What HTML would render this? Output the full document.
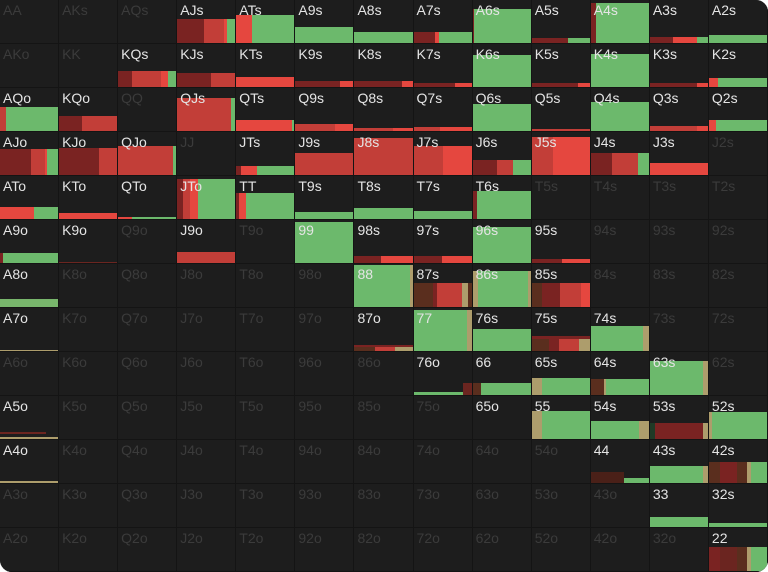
<!DOCTYPE html>
<html><head><meta charset="utf-8">
<style>
html,body{margin:0;padding:0;background:#fff;}
#g{position:relative;width:768px;height:572px;display:grid;grid-template-columns:repeat(13,1fr);grid-template-rows:repeat(13,44px);background:#131313;border-radius:0 12px 12px 12px;overflow:hidden;}
.c{position:relative;background:#1d1d1d;border-right:1px solid #141414;border-bottom:1px solid #141414;box-sizing:border-box;overflow:hidden;}
.c p{position:absolute;left:3px;top:3px;margin:0;font:14px/14px "Liberation Sans",sans-serif;color:#e4e4e4;z-index:2;white-space:nowrap;}
.c p.x{color:#3b3b3b;}
.b{position:absolute;left:0;right:0;bottom:0;display:flex;align-items:flex-end;}
.b i{display:block;height:100%;flex:none;}
.d{background:#7a2322}.m{background:#c23e38}.r{background:#e5473f}.g{background:#6cb96c}.t{background:#ad9d6c}.n{background:#5a2e1e}.e{background:#6b2520}.k{background:#1f3a26}.z{background:transparent}
</style></head><body>
<div id="g">
<!-- row 0 -->
<div class="c"><p class="x">AA</p></div>
<div class="c"><p class="x">AKs</p></div>
<div class="c"><p class="x">AQs</p></div>
<div class="c"><p>AJs</p><div class="b" style="height:24px"><i class="d" style="width:46%"></i><i class="m" style="width:34%"></i><i class="r" style="width:5%"></i><i class="g" style="width:15%"></i></div></div>
<div class="c"><p>ATs</p><div class="b" style="height:28px"><i class="r" style="width:27%"></i><i class="g" style="width:73%"></i></div></div>
<div class="c"><p>A9s</p><div class="b" style="height:16px"><i class="g" style="width:100%"></i></div></div>
<div class="c"><p>A8s</p><div class="b" style="height:11px"><i class="g" style="width:100%"></i></div></div>
<div class="c"><p>A7s</p><div class="b" style="height:11px"><i class="d" style="width:37%"></i><i class="r" style="width:7%"></i><i class="g" style="width:56%"></i></div></div>
<div class="c"><p>A6s</p><div class="b" style="height:34px"><i class="d" style="width:3%"></i><i class="g" style="width:97%"></i></div></div>
<div class="c"><p>A5s</p><div class="b" style="height:5px"><i class="d" style="width:63%"></i><i class="g" style="width:37%"></i></div></div>
<div class="c"><p>A4s</p><div class="b" style="height:40px"><i class="d" style="width:9%"></i><i class="g" style="width:91%"></i></div></div>
<div class="c"><p>A3s</p><div class="b" style="height:6px"><i class="d" style="width:40%"></i><i class="r" style="width:41%"></i><i class="g" style="width:19%"></i></div></div>
<div class="c"><p>A2s</p><div class="b" style="height:8px"><i class="g" style="width:100%"></i></div></div>
<!-- row 1 -->
<div class="c"><p class="x">AKo</p></div>
<div class="c"><p class="x">KK</p></div>
<div class="c"><p>KQs</p><div class="b" style="height:16px"><i class="d" style="width:24%"></i><i class="m" style="width:50%"></i><i class="r" style="width:12%"></i><i class="g" style="width:14%"></i></div></div>
<div class="c"><p>KJs</p><div class="b" style="height:14px"><i class="d" style="width:58%"></i><i class="m" style="width:42%"></i></div></div>
<div class="c"><p>KTs</p><div class="b" style="height:10px"><i class="r" style="width:100%"></i></div></div>
<div class="c"><p>K9s</p><div class="b" style="height:6px"><i class="d" style="width:77%"></i><i class="r" style="width:23%"></i></div></div>
<div class="c"><p>K8s</p><div class="b" style="height:6px"><i class="d" style="width:82%"></i><i class="r" style="width:18%"></i></div></div>
<div class="c"><p>K7s</p><div class="b" style="height:4px"><i class="d" style="width:71%"></i><i class="r" style="width:29%"></i></div></div>
<div class="c"><p>K6s</p><div class="b" style="height:32px"><i class="g" style="width:100%"></i></div></div>
<div class="c"><p>K5s</p><div class="b" style="height:4px"><i class="d" style="width:80%"></i><i class="r" style="width:20%"></i></div></div>
<div class="c"><p>K4s</p><div class="b" style="height:33px"><i class="g" style="width:100%"></i></div></div>
<div class="c"><p>K3s</p><div class="b" style="height:4px"><i class="d" style="width:82%"></i><i class="r" style="width:18%"></i></div></div>
<div class="c"><p>K2s</p><div class="b" style="height:9px"><i class="r" style="width:16%"></i><i class="g" style="width:84%"></i></div></div>
<!-- row 2 -->
<div class="c"><p>AQo</p><div class="b" style="height:24px"><i class="m" style="width:10%"></i><i class="g" style="width:90%"></i></div></div>
<div class="c"><p>KQo</p><div class="b" style="height:15px"><i class="d" style="width:39%"></i><i class="m" style="width:61%"></i></div></div>
<div class="c"><p class="x">QQ</p></div>
<div class="c"><p>QJs</p><div class="b" style="height:33px"><i class="m" style="width:92%"></i><i class="g" style="width:8%"></i></div></div>
<div class="c"><p>QTs</p><div class="b" style="height:11px"><i class="r" style="width:96%"></i><i class="g" style="width:4%"></i></div></div>
<div class="c"><p>Q9s</p><div class="b" style="height:7px"><i class="m" style="width:68%"></i><i class="r" style="width:32%"></i></div></div>
<div class="c"><p>Q8s</p><div class="b" style="height:3px"><i class="m" style="width:66%"></i><i class="r" style="width:34%"></i></div></div>
<div class="c"><p>Q7s</p><div class="b" style="height:4px"><i class="m" style="width:46%"></i><i class="r" style="width:54%"></i></div></div>
<div class="c"><p>Q6s</p><div class="b" style="height:27px"><i class="g" style="width:100%"></i></div></div>
<div class="c"><p>Q5s</p><div class="b" style="height:2px"><i class="m" style="width:100%"></i></div></div>
<div class="c"><p>Q4s</p><div class="b" style="height:29px"><i class="g" style="width:100%"></i></div></div>
<div class="c"><p>Q3s</p><div class="b" style="height:5px"><i class="m" style="width:82%"></i><i class="r" style="width:18%"></i></div></div>
<div class="c"><p>Q2s</p><div class="b" style="height:11px"><i class="r" style="width:12%"></i><i class="g" style="width:88%"></i></div></div>
<!-- row 3 -->
<div class="c"><p>AJo</p><div class="b" style="height:26px"><i class="d" style="width:54%"></i><i class="m" style="width:24%"></i><i class="r" style="width:3%"></i><i class="g" style="width:19%"></i></div></div>
<div class="c"><p>KJo</p><div class="b" style="height:27px"><i class="d" style="width:68%"></i><i class="m" style="width:32%"></i></div></div>
<div class="c"><p>QJo</p><div class="b" style="height:29px"><i class="m" style="width:95%"></i><i class="g" style="width:5%"></i></div></div>
<div class="c"><p class="x">JJ</p></div>
<div class="c"><p>JTs</p><div class="b" style="height:9px"><i class="d" style="width:8%"></i><i class="r" style="width:27%"></i><i class="g" style="width:65%"></i></div></div>
<div class="c"><p>J9s</p><div class="b" style="height:22px"><i class="m" style="width:100%"></i></div></div>
<div class="c"><p>J8s</p><div class="b" style="height:37px"><i class="m" style="width:100%"></i></div></div>
<div class="c"><p>J7s</p><div class="b" style="height:29px"><i class="m" style="width:51%"></i><i class="r" style="width:49%"></i></div></div>
<div class="c"><p>J6s</p><div class="b" style="height:15px"><i class="d" style="width:42%"></i><i class="m" style="width:28%"></i><i class="g" style="width:30%"></i></div></div>
<div class="c"><p>J5s</p><div class="b" style="height:38px"><i class="m" style="width:36%"></i><i class="r" style="width:64%"></i></div></div>
<div class="c"><p>J4s</p><div class="b" style="height:22px"><i class="d" style="width:36%"></i><i class="m" style="width:45%"></i><i class="g" style="width:19%"></i></div></div>
<div class="c"><p>J3s</p><div class="b" style="height:12px"><i class="r" style="width:100%"></i></div></div>
<div class="c"><p class="x">J2s</p></div>
<!-- row 4 -->
<div class="c"><p>ATo</p><div class="b" style="height:12px"><i class="r" style="width:58%"></i><i class="g" style="width:42%"></i></div></div>
<div class="c"><p>KTo</p><div class="b" style="height:6px"><i class="r" style="width:100%"></i></div></div>
<div class="c"><p>QTo</p><div class="b" style="height:2px"><i class="r" style="width:24%"></i><i class="g" style="width:76%"></i></div></div>
<div class="c"><p>JTo</p><div class="b" style="height:40px"><i class="d" style="width:10%"></i><i class="m" style="width:12%"></i><i class="r" style="width:14%"></i><i class="g" style="width:64%"></i></div></div>
<div class="c"><p>TT</p><div class="b" style="height:26px"><i class="d" style="width:5%"></i><i class="r" style="width:12%"></i><i class="g" style="width:83%"></i></div></div>
<div class="c"><p>T9s</p><div class="b" style="height:7px"><i class="g" style="width:100%"></i></div></div>
<div class="c"><p>T8s</p><div class="b" style="height:11px"><i class="g" style="width:100%"></i></div></div>
<div class="c"><p>T7s</p><div class="b" style="height:8px"><i class="g" style="width:100%"></i></div></div>
<div class="c"><p>T6s</p><div class="b" style="height:28px"><i class="d" style="width:8%"></i><i class="g" style="width:92%"></i></div></div>
<div class="c"><p class="x">T5s</p></div>
<div class="c"><p class="x">T4s</p></div>
<div class="c"><p class="x">T3s</p></div>
<div class="c"><p class="x">T2s</p></div>
<!-- row 5 -->
<div class="c"><p>A9o</p><div class="b" style="height:10px"><i class="d" style="width:5%"></i><i class="g" style="width:95%"></i></div></div>
<div class="c"><p>K9o</p><div class="b" style="height:1px"><i class="e" style="width:100%"></i></div></div>
<div class="c"><p class="x">Q9o</p></div>
<div class="c"><p>J9o</p><div class="b" style="height:11px"><i class="m" style="width:100%"></i></div></div>
<div class="c"><p class="x">T9o</p></div>
<div class="c"><p>99</p><div class="b" style="height:41px"><i class="g" style="width:100%"></i></div></div>
<div class="c"><p>98s</p><div class="b" style="height:7px"><i class="d" style="width:45%"></i><i class="r" style="width:55%"></i></div></div>
<div class="c"><p>97s</p><div class="b" style="height:7px"><i class="d" style="width:49%"></i><i class="r" style="width:51%"></i></div></div>
<div class="c"><p>96s</p><div class="b" style="height:36px"><i class="g" style="width:100%"></i></div></div>
<div class="c"><p>95s</p><div class="b" style="height:4px"><i class="d" style="width:52%"></i><i class="r" style="width:48%"></i></div></div>
<div class="c"><p class="x">94s</p></div>
<div class="c"><p class="x">93s</p></div>
<div class="c"><p class="x">92s</p></div>
<!-- row 6 -->
<div class="c"><p>A8o</p><div class="b" style="height:8px"><i class="g" style="width:100%;background:#78b66c"></i></div></div>
<div class="c"><p class="x">K8o</p></div>
<div class="c"><p class="x">Q8o</p></div>
<div class="c"><p class="x">J8o</p></div>
<div class="c"><p class="x">T8o</p></div>
<div class="c"><p class="x">98o</p></div>
<div class="c"><p>88</p><div class="b" style="height:42px"><i class="g" style="width:95%"></i><i class="t" style="width:5%"></i></div></div>
<div class="c"><p>87s</p><div class="b" style="height:24px"><i class="n" style="width:34%"></i><i class="d" style="width:7%"></i><i class="m" style="width:42%"></i><i class="t" style="width:10%"></i><i class="n" style="width:7%"></i></div></div>
<div class="c"><p>86s</p><div class="b" style="height:36px"><i class="t" style="width:10%"></i><i class="g" style="width:85%"></i><i class="t" style="width:5%"></i></div></div>
<div class="c"><p>85s</p><div class="b" style="height:24px"><i class="n" style="width:17%"></i><i class="d" style="width:32%"></i><i class="m" style="width:36%"></i><i class="r" style="width:15%"></i></div></div>
<div class="c"><p class="x">84s</p></div>
<div class="c"><p class="x">83s</p></div>
<div class="c"><p class="x">82s</p></div>
<!-- row 7 -->
<div class="c"><p>A7o</p><div class="b" style="height:1px"><i class="t" style="width:100%"></i></div></div>
<div class="c"><p class="x">K7o</p></div>
<div class="c"><p class="x">Q7o</p></div>
<div class="c"><p class="x">J7o</p></div>
<div class="c"><p class="x">T7o</p></div>
<div class="c"><p class="x">97o</p></div>
<div class="c"><p>87o</p><div class="b" style="height:4px"><i class="n" style="width:35%"></i><i class="m" style="width:35%"></i><i class="t" style="width:30%"></i></div><div class="b" style="bottom:4px;height:2px"><i class="d" style="width:100%"></i></div></div>
<div class="c"><p>77</p><div class="b" style="height:41px"><i class="g" style="width:92%"></i><i class="t" style="width:8%"></i></div></div>
<div class="c"><p>76s</p><div class="b" style="height:22px"><i class="g" style="width:100%"></i></div></div>
<div class="c"><p>75s</p><div class="b" style="height:12px"><i class="n" style="width:30%"></i><i class="d" style="width:17%"></i><i class="m" style="width:35%"></i><i class="t" style="width:18%"></i></div><div class="b" style="bottom:12px;height:3px"><i class="d" style="width:100%"></i></div></div>
<div class="c"><p>74s</p><div class="b" style="height:25px"><i class="g" style="width:90%"></i><i class="t" style="width:10%"></i></div></div>
<div class="c"><p class="x">73s</p></div>
<div class="c"><p class="x">72s</p></div>
<!-- row 8 -->
<div class="c"><p class="x">A6o</p></div>
<div class="c"><p class="x">K6o</p></div>
<div class="c"><p class="x">Q6o</p></div>
<div class="c"><p class="x">J6o</p></div>
<div class="c"><p class="x">T6o</p></div>
<div class="c"><p class="x">96o</p></div>
<div class="c"><p class="x">86o</p></div>
<div class="c"><p>76o</p><div class="b" style="height:12px"><i class="g" style="width:86%;height:3px"></i><i class="e" style="width:14%"></i></div></div>
<div class="c"><p>66</p><div class="b" style="height:12px"><i class="n" style="width:14%"></i><i class="g" style="width:86%"></i></div></div>
<div class="c"><p>65s</p><div class="b" style="height:17px"><i class="t" style="width:17%"></i><i class="g" style="width:83%"></i></div></div>
<div class="c"><p>64s</p><div class="b" style="height:16px"><i class="n" style="width:22%"></i><i class="t" style="width:5%"></i><i class="g" style="width:73%"></i></div></div>
<div class="c"><p>63s</p><div class="b" style="height:34px"><i class="g" style="width:91%"></i><i class="t" style="width:9%"></i></div></div>
<div class="c"><p class="x">62s</p></div>
<!-- row 9 -->
<div class="c"><p>A5o</p><div class="b" style="height:2px"><i class="t" style="width:100%"></i></div><div class="b" style="bottom:5px;height:2px"><i class="e" style="width:80%"></i></div></div>
<div class="c"><p class="x">K5o</p></div>
<div class="c"><p class="x">Q5o</p></div>
<div class="c"><p class="x">J5o</p></div>
<div class="c"><p class="x">T5o</p></div>
<div class="c"><p class="x">95o</p></div>
<div class="c"><p class="x">85o</p></div>
<div class="c"><p class="x">75o</p></div>
<div class="c"><p>65o</p></div>
<div class="c"><p>55</p><div class="b" style="height:28px"><i class="t" style="width:17%"></i><i class="g" style="width:83%"></i></div></div>
<div class="c"><p>54s</p><div class="b" style="height:18px"><i class="g" style="width:83%"></i><i class="t" style="width:17%"></i></div></div>
<div class="c"><p>53s</p><div class="b" style="height:16px"><i class="k" style="width:9%"></i><i class="d" style="width:82%"></i><i class="t" style="width:9%"></i></div></div>
<div class="c"><p>52s</p><div class="b" style="height:27px"><i class="t" style="width:5%"></i><i class="g" style="width:95%"></i></div></div>
<!-- row 10 -->
<div class="c"><p>A4o</p><div class="b" style="height:2px"><i class="t" style="width:100%"></i></div></div>
<div class="c"><p class="x">K4o</p></div>
<div class="c"><p class="x">Q4o</p></div>
<div class="c"><p class="x">J4o</p></div>
<div class="c"><p class="x">T4o</p></div>
<div class="c"><p class="x">94o</p></div>
<div class="c"><p class="x">84o</p></div>
<div class="c"><p class="x">74o</p></div>
<div class="c"><p class="x">64o</p></div>
<div class="c"><p class="x">54o</p></div>
<div class="c"><p>44</p><div class="b" style="height:11px"><i class="e" style="width:58%;background:#4a2018"></i><i class="g" style="width:42%;height:5px"></i></div></div>
<div class="c"><p>43s</p><div class="b" style="height:17px"><i class="g" style="width:91%"></i><i class="t" style="width:9%"></i></div></div>
<div class="c"><p>42s</p><div class="b" style="height:21px"><i class="n" style="width:19%"></i><i class="d" style="width:29%"></i><i class="n" style="width:17%"></i><i class="t" style="width:8%"></i><i class="g" style="width:27%"></i></div></div>
<!-- row 11 -->
<div class="c"><p class="x">A3o</p></div>
<div class="c"><p class="x">K3o</p></div>
<div class="c"><p class="x">Q3o</p></div>
<div class="c"><p class="x">J3o</p></div>
<div class="c"><p class="x">T3o</p></div>
<div class="c"><p class="x">93o</p></div>
<div class="c"><p class="x">83o</p></div>
<div class="c"><p class="x">73o</p></div>
<div class="c"><p class="x">63o</p></div>
<div class="c"><p class="x">53o</p></div>
<div class="c"><p class="x">43o</p></div>
<div class="c"><p>33</p><div class="b" style="height:10px"><i class="g" style="width:100%"></i></div></div>
<div class="c"><p>32s</p><div class="b" style="height:4px"><i class="g" style="width:100%"></i></div></div>
<!-- row 12 -->
<div class="c"><p class="x">A2o</p></div>
<div class="c"><p class="x">K2o</p></div>
<div class="c"><p class="x">Q2o</p></div>
<div class="c"><p class="x">J2o</p></div>
<div class="c"><p class="x">T2o</p></div>
<div class="c"><p class="x">92o</p></div>
<div class="c"><p class="x">82o</p></div>
<div class="c"><p class="x">72o</p></div>
<div class="c"><p class="x">62o</p></div>
<div class="c"><p class="x">52o</p></div>
<div class="c"><p class="x">42o</p></div>
<div class="c"><p class="x">32o</p></div>
<div class="c"><p>22</p><div class="b" style="height:24px"><i class="d" style="width:19%"></i><i class="e" style="width:29%"></i><i class="n" style="width:17%"></i><i class="t" style="width:8%"></i><i class="g" style="width:27%"></i></div></div>
</div>
</body></html>
